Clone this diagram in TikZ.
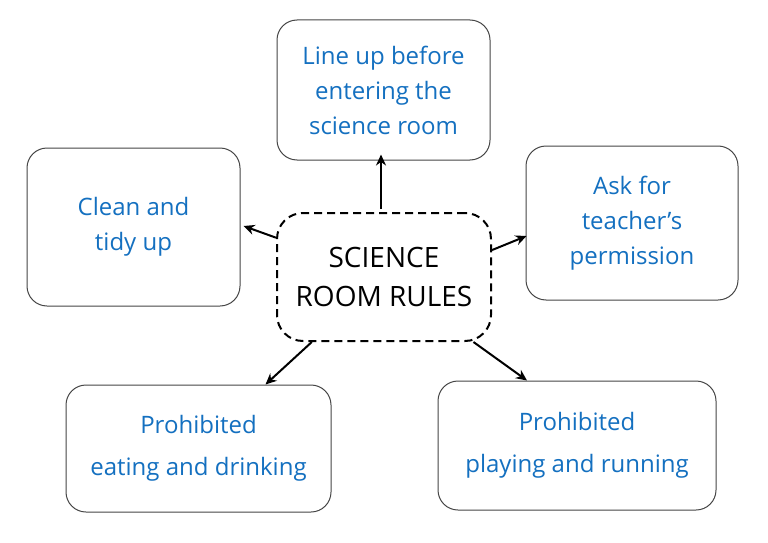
\documentclass[tikz,border=0pt]{standalone}
\usepackage{fontspec}
\setmainfont{Open Sans}
\usetikzlibrary{calc,arrows.meta}
\definecolor{txtblue}{RGB}{20,112,192}
\definecolor{boxgray}{RGB}{70,70,70}
\begin{document}
\begin{tikzpicture}[x=1pt,y=-1pt,
  rulebox/.style={draw=boxgray,line width=1pt,rounded corners=20pt,inner sep=0pt,
    text=txtblue,align=center,font=\fontsize{24}{35}\selectfont},
  centerbox/.style={draw=black,line width=2pt,dash pattern=on 8pt off 5pt,rounded corners=26pt,
    inner sep=0pt,align=center,font=\fontsize{28}{39}\selectfont,
    minimum width=214pt,minimum height=128pt},
  conn/.style={-{Stealth[length=11pt,width=10pt]},line width=2pt,black}]
\fill[white] (0,0) rectangle (768,543);
\useasboundingbox (0,0) rectangle (768,543);
\node[centerbox] (c) at (384,277) {SCIENCE\\ROOM RULES};
\node[rulebox,minimum width=213pt,minimum height=140pt] (top) at (383.5,90) {Line up before\\entering the\\science room};
\node[rulebox,minimum width=213pt,minimum height=158pt] (left) at (133.5,227) {Clean and\\tidy up};
\node[rulebox,minimum width=212pt,minimum height=154pt] (right) at (632,223) {Ask for\\teacher’s\\permission};
\node[rulebox,minimum width=265pt,minimum height=127pt] (bl) at (198.5,448.5) {Prohibited\\[7pt]eating and drinking};
\node[rulebox,minimum width=278pt,minimum height=129pt] (br) at (577,445.5) {Prohibited\\[7pt]playing and running};
\draw[conn] ($(c.north)+(-3,-3)$) -- ($(top.south)+(-2.5,-6)$);
\draw[conn] (c.160) -- ($(left.east)+(3,-1)$);
\draw[conn] (c.14) -- ($(right.west)+(1,13)$);
\draw[conn] (c.222) -- ($(bl.north)+(67,0)$);
\draw[conn] (c.324.5) -- ($(br.north)+(-50,0)$);
\end{tikzpicture}
\end{document}
